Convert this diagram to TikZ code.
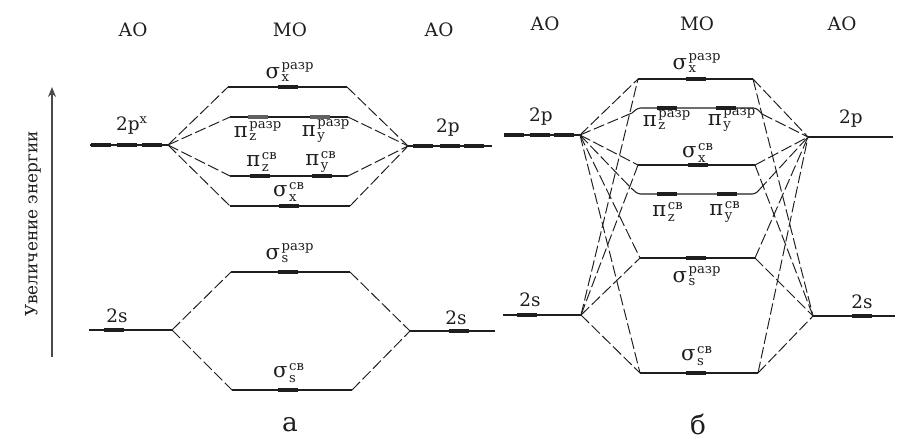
\documentclass[tikz,border=0pt]{standalone}
\usepackage{amsmath}
\usepackage{fontspec}
\setmainfont{DejaVu Serif}
\usetikzlibrary{arrows.meta}
\definecolor{ink}{HTML}{1E1E1E}

% orbital label: letter, subscript, superscript
\newcommand{\orblabel}[3]{$\text{\fontsize{12}{13}\selectfont #1}\mkern1.5mu{}_{\text{\fontsize{7.5}{8}\selectfont #2}}^{\text{\fontsize{7.5}{8}\selectfont #3}}$}

\begin{document}
\begin{tikzpicture}[
  x=0.02cm, y=-0.02cm,
  txt/.style={font=\fontsize{10.5}{12}\selectfont, text=ink, inner sep=0pt},
  orb/.style={fill=ink, minimum width=0.41cm, minimum height=0.075cm, inner sep=0pt, outer sep=0pt},
  lvl/.style={draw=ink, line width=0.6pt},
  conn/.style={draw=ink, line width=0.55pt, dash pattern=on 6.5pt off 2pt},
  arr/.style={-{Stealth[length=2mm, width=1.6mm]}, draw=ink!80, line width=0.7pt}
]
  \useasboundingbox (0,0) rectangle (922,444);

  % Headers
  \node[txt] (aoA) at (133,30) {АО};
  \node[txt] (moA) at (290,30) {МО};
  \node[txt] (aoB) at (439,30) {АО};
  \node[txt] (aoC) at (545,24) {АО};
  \node[txt] (moB) at (697,24) {МО};
  \node[txt] (aoD) at (842,24) {АО};

  % Energy axis
  \coordinate (enBot) at (52,357);
  \coordinate (enTop) at (52,87);
  \draw[arr] (enBot) -- (enTop);
  \node[txt, rotate=90, font=\fontsize{9.6}{11}\selectfont] (energy) at (33,224) {Увеличение энергии};

  % Panel a: level ends
  \coordinate (a2pL) at (90,145);   \coordinate (a2pE) at (168,145);
  \coordinate (a2pS) at (408,146);  \coordinate (a2pR) at (492,146);
  \coordinate (a2sL) at (89,330);   \coordinate (a2sE) at (172,330);
  \coordinate (a2sS) at (410,331);  \coordinate (a2sR) at (495,331);
  \coordinate (asxaL) at (228,87);  \coordinate (asxaR) at (347,87);
  \coordinate (apaL) at (230,117);  \coordinate (apaR) at (348,117);
  \coordinate (apbL) at (230,176);  \coordinate (apbR) at (348,176);
  \coordinate (asxbL) at (230,206); \coordinate (asxbR) at (350,206);
  \coordinate (assaL) at (231,272); \coordinate (assaR) at (350,272);
  \coordinate (assbL) at (232,390); \coordinate (assbR) at (352,390);

  % Panel a: levels
  \draw[lvl] (a2pL) -- (a2pE);
  \draw[lvl] (a2pS) -- (a2pR);
  \draw[lvl] (a2sL) -- (a2sE);
  \draw[lvl] (a2sS) -- (a2sR);
  \draw[lvl] (asxaL) -- (asxaR);
  \draw[lvl, line width=0.9pt] (apaL) -- (apaR);
  \draw[lvl] (apbL) -- (apbR);
  \draw[lvl] (asxbL) -- (asxbR);
  \draw[lvl] (assaL) -- (assaR);
  \draw[lvl] (assbL) -- (assbR);

  % Panel a: electrons
  \node[orb] (a2p1) at (101,145) {};
  \node[orb] (a2p2) at (127,145) {};
  \node[orb] (a2p3) at (152,145) {};
  \node[orb] (a2p4) at (423,146) {};
  \node[orb] (a2p5) at (450,146) {};
  \node[orb] (a2p6) at (474,146) {};
  \node[orb] (a2s1) at (114,330) {};
  \node[orb] (a2s2) at (459,331) {};
  \node[orb] (asxa) at (288,87) {};
  \node[orb, fill=ink!70] (apza) at (258,117) {};
  \node[orb, fill=ink!70] (apya) at (320,117) {};
  \node[orb] (apzb) at (260,176) {};
  \node[orb] (apyb) at (322,176) {};
  \node[orb] (asxb) at (289,206) {};
  \node[orb] (assa) at (288,272) {};
  \node[orb] (assb) at (288,390) {};

  % Panel a: connectors
  \draw[conn] (a2pE) -- (asxaL);
  \draw[conn] (a2pE) -- (apaL);
  \draw[conn] (a2pE) -- (apbL);
  \draw[conn] (a2pE) -- (asxbL);
  \draw[conn] (asxaR) -- (a2pS);
  \draw[conn] (apaR) -- (a2pS);
  \draw[conn] (apbR) -- (a2pS);
  \draw[conn] (asxbR) -- (a2pS);
  \draw[conn] (a2sE) -- (assaL);
  \draw[conn] (a2sE) -- (assbL);
  \draw[conn] (assaR) -- (a2sS);
  \draw[conn] (assbR) -- (a2sS);

  % Panel a: labels
  \node[txt] (a2pLab) at (132,126) {2p$^{\text{x}}$};
  \node[txt] (a2pRab) at (448,128) {2p};
  \node[txt] (a2sLab) at (117,316) {2s};
  \node[txt] (a2sRab) at (456,318) {2s};
  \node[txt] (asxaLab) at (290,72) {\orblabel{σ}{x}{разр}};
  \node[txt] (apzaLab) at (258,131) {\orblabel{π}{z}{разр}};
  \node[txt] (apyaLab) at (326,131) {\orblabel{π}{y}{разр}};
  \node[txt] (apzbLab) at (262,162) {\orblabel{π}{z}{св}};
  \node[txt] (apybLab) at (321,162) {\orblabel{π}{y}{св}};
  \node[txt] (asxbLab) at (289,192) {\orblabel{σ}{x}{св}};
  \node[txt] (assaLab) at (290,253) {\orblabel{σ}{s}{разр}};
  \node[txt] (assbLab) at (289,373) {\orblabel{σ}{s}{св}};
  \node[txt, font=\fontsize{15}{17}\selectfont] (capA) at (290,425) {а};

  % Panel b: level ends
  \coordinate (b2pL) at (504,135);  \coordinate (b2pE) at (580,135);
  \coordinate (b2pS) at (808,137);  \coordinate (b2pR) at (893,137);
  \coordinate (b2sL) at (503,315);  \coordinate (b2sE) at (581,315);
  \coordinate (b2sS) at (813,316);  \coordinate (b2sR) at (895,316);
  \coordinate (bsxaL) at (638,79);  \coordinate (bsxaR) at (753,79);
  \coordinate (bpaL) at (632,113);  \coordinate (bpaR) at (762,114);
  \coordinate (bpaC) at (638,108);  \coordinate (bpaD) at (756,108);
  \coordinate (bsxbL) at (638,165); \coordinate (bsxbR) at (755,165);
  \coordinate (bpbL) at (631,188);  \coordinate (bpbR) at (759,190);
  \coordinate (bpbC) at (638,194);  \coordinate (bpbD) at (755,194);
  \coordinate (bssaL) at (640,258); \coordinate (bssaR) at (755,258);
  \coordinate (bssbL) at (640,373); \coordinate (bssbR) at (758,373);

  % Panel b: levels
  \draw[lvl] (b2pL) -- (b2pE);
  \draw[lvl] (b2pS) -- (b2pR);
  \draw[lvl] (b2sL) -- (b2sE);
  \draw[lvl] (b2sS) -- (b2sR);
  \draw[lvl] (bsxaL) -- (bsxaR);
  \draw[lvl, rounded corners=1.5pt] (bpaL) -- (bpaC) -- (bpaD) -- (bpaR);
  \draw[lvl] (bsxbL) -- (bsxbR);
  \draw[lvl, rounded corners=1.5pt] (bpbL) -- (bpbC) -- (bpbD) -- (bpbR);
  \draw[lvl] (bssaL) -- (bssaR);
  \draw[lvl] (bssbL) -- (bssbR);

  % Panel b: electrons
  \node[orb] (b2p1) at (514,135) {};
  \node[orb] (b2p2) at (540,135) {};
  \node[orb] (b2p3) at (564,135) {};
  \node[orb, minimum height=0.05cm] (b2p4) at (824,137) {};
  \node[orb, minimum height=0.05cm] (b2p5) at (850,137) {};
  \node[orb, minimum height=0.05cm] (b2p6) at (875,137) {};
  \node[orb] (b2s1) at (527,315) {};
  \node[orb] (b2s2) at (862,316) {};
  \node[orb] (bsxa) at (696,79) {};
  \node[orb] (bpza) at (667,108) {};
  \node[orb] (bpya) at (726,108) {};
  \node[orb] (bsxb) at (698,165) {};
  \node[orb] (bpzb) at (667,194) {};
  \node[orb] (bpyb) at (727,194) {};
  \node[orb] (bssa) at (696,258) {};
  \node[orb] (bssb) at (696,373) {};

  % Panel b: connectors from 2p
  \draw[conn] (b2pE) -- (bsxaL);
  \draw[conn] (b2pE) -- (bpaL);
  \draw[conn] (b2pE) -- (bsxbL);
  \draw[conn] (b2pE) -- (bpbL);
  \draw[conn] (b2pE) -- (bssaL);
  \draw[conn] (b2pE) -- (bssbL);
  \draw[conn] (bsxaR) -- (b2pS);
  \draw[conn] (bpaR) -- (b2pS);
  \draw[conn] (bsxbR) -- (b2pS);
  \draw[conn] (bpbR) -- (b2pS);
  \draw[conn] (bssaR) -- (b2pS);
  \draw[conn] (bssbR) -- (b2pS);

  % Panel b: connectors from 2s
  \draw[conn] (b2sE) -- (bsxaL);
  \draw[conn] (b2sE) -- (bsxbL);
  \draw[conn] (b2sE) -- (bssaL);
  \draw[conn] (b2sE) -- (bssbL);
  \draw[conn] (bsxaR) -- (b2sS);
  \draw[conn] (bsxbR) -- (b2sS);
  \draw[conn] (bssaR) -- (b2sS);
  \draw[conn] (bssbR) -- (b2sS);

  % Panel b: labels
  \node[txt] (b2pLab) at (541,117) {2p};
  \node[txt] (b2pRab) at (851,119) {2p};
  \node[txt] (b2sLab) at (530,300) {2s};
  \node[txt] (b2sRab) at (862,302) {2s};
  \node[txt] (bsxaLab) at (697,63) {\orblabel{σ}{x}{разр}};
  \node[txt] (bpzaLab) at (667,120) {\orblabel{π}{z}{разр}};
  \node[txt] (bpyaLab) at (732,120) {\orblabel{π}{y}{разр}};
  \node[txt] (bsxbLab) at (698,153) {\orblabel{σ}{x}{св}};
  \node[txt] (bpzbLab) at (668,212) {\orblabel{π}{z}{св}};
  \node[txt] (bpybLab) at (725,212) {\orblabel{π}{y}{св}};
  \node[txt] (bssaLab) at (697,276) {\orblabel{σ}{s}{разр}};
  \node[txt] (bssbLab) at (697,356) {\orblabel{σ}{s}{св}};
  \node[txt, font=\fontsize{15}{17}\selectfont] (capB) at (698,424) {б};
\end{tikzpicture}
\end{document}
